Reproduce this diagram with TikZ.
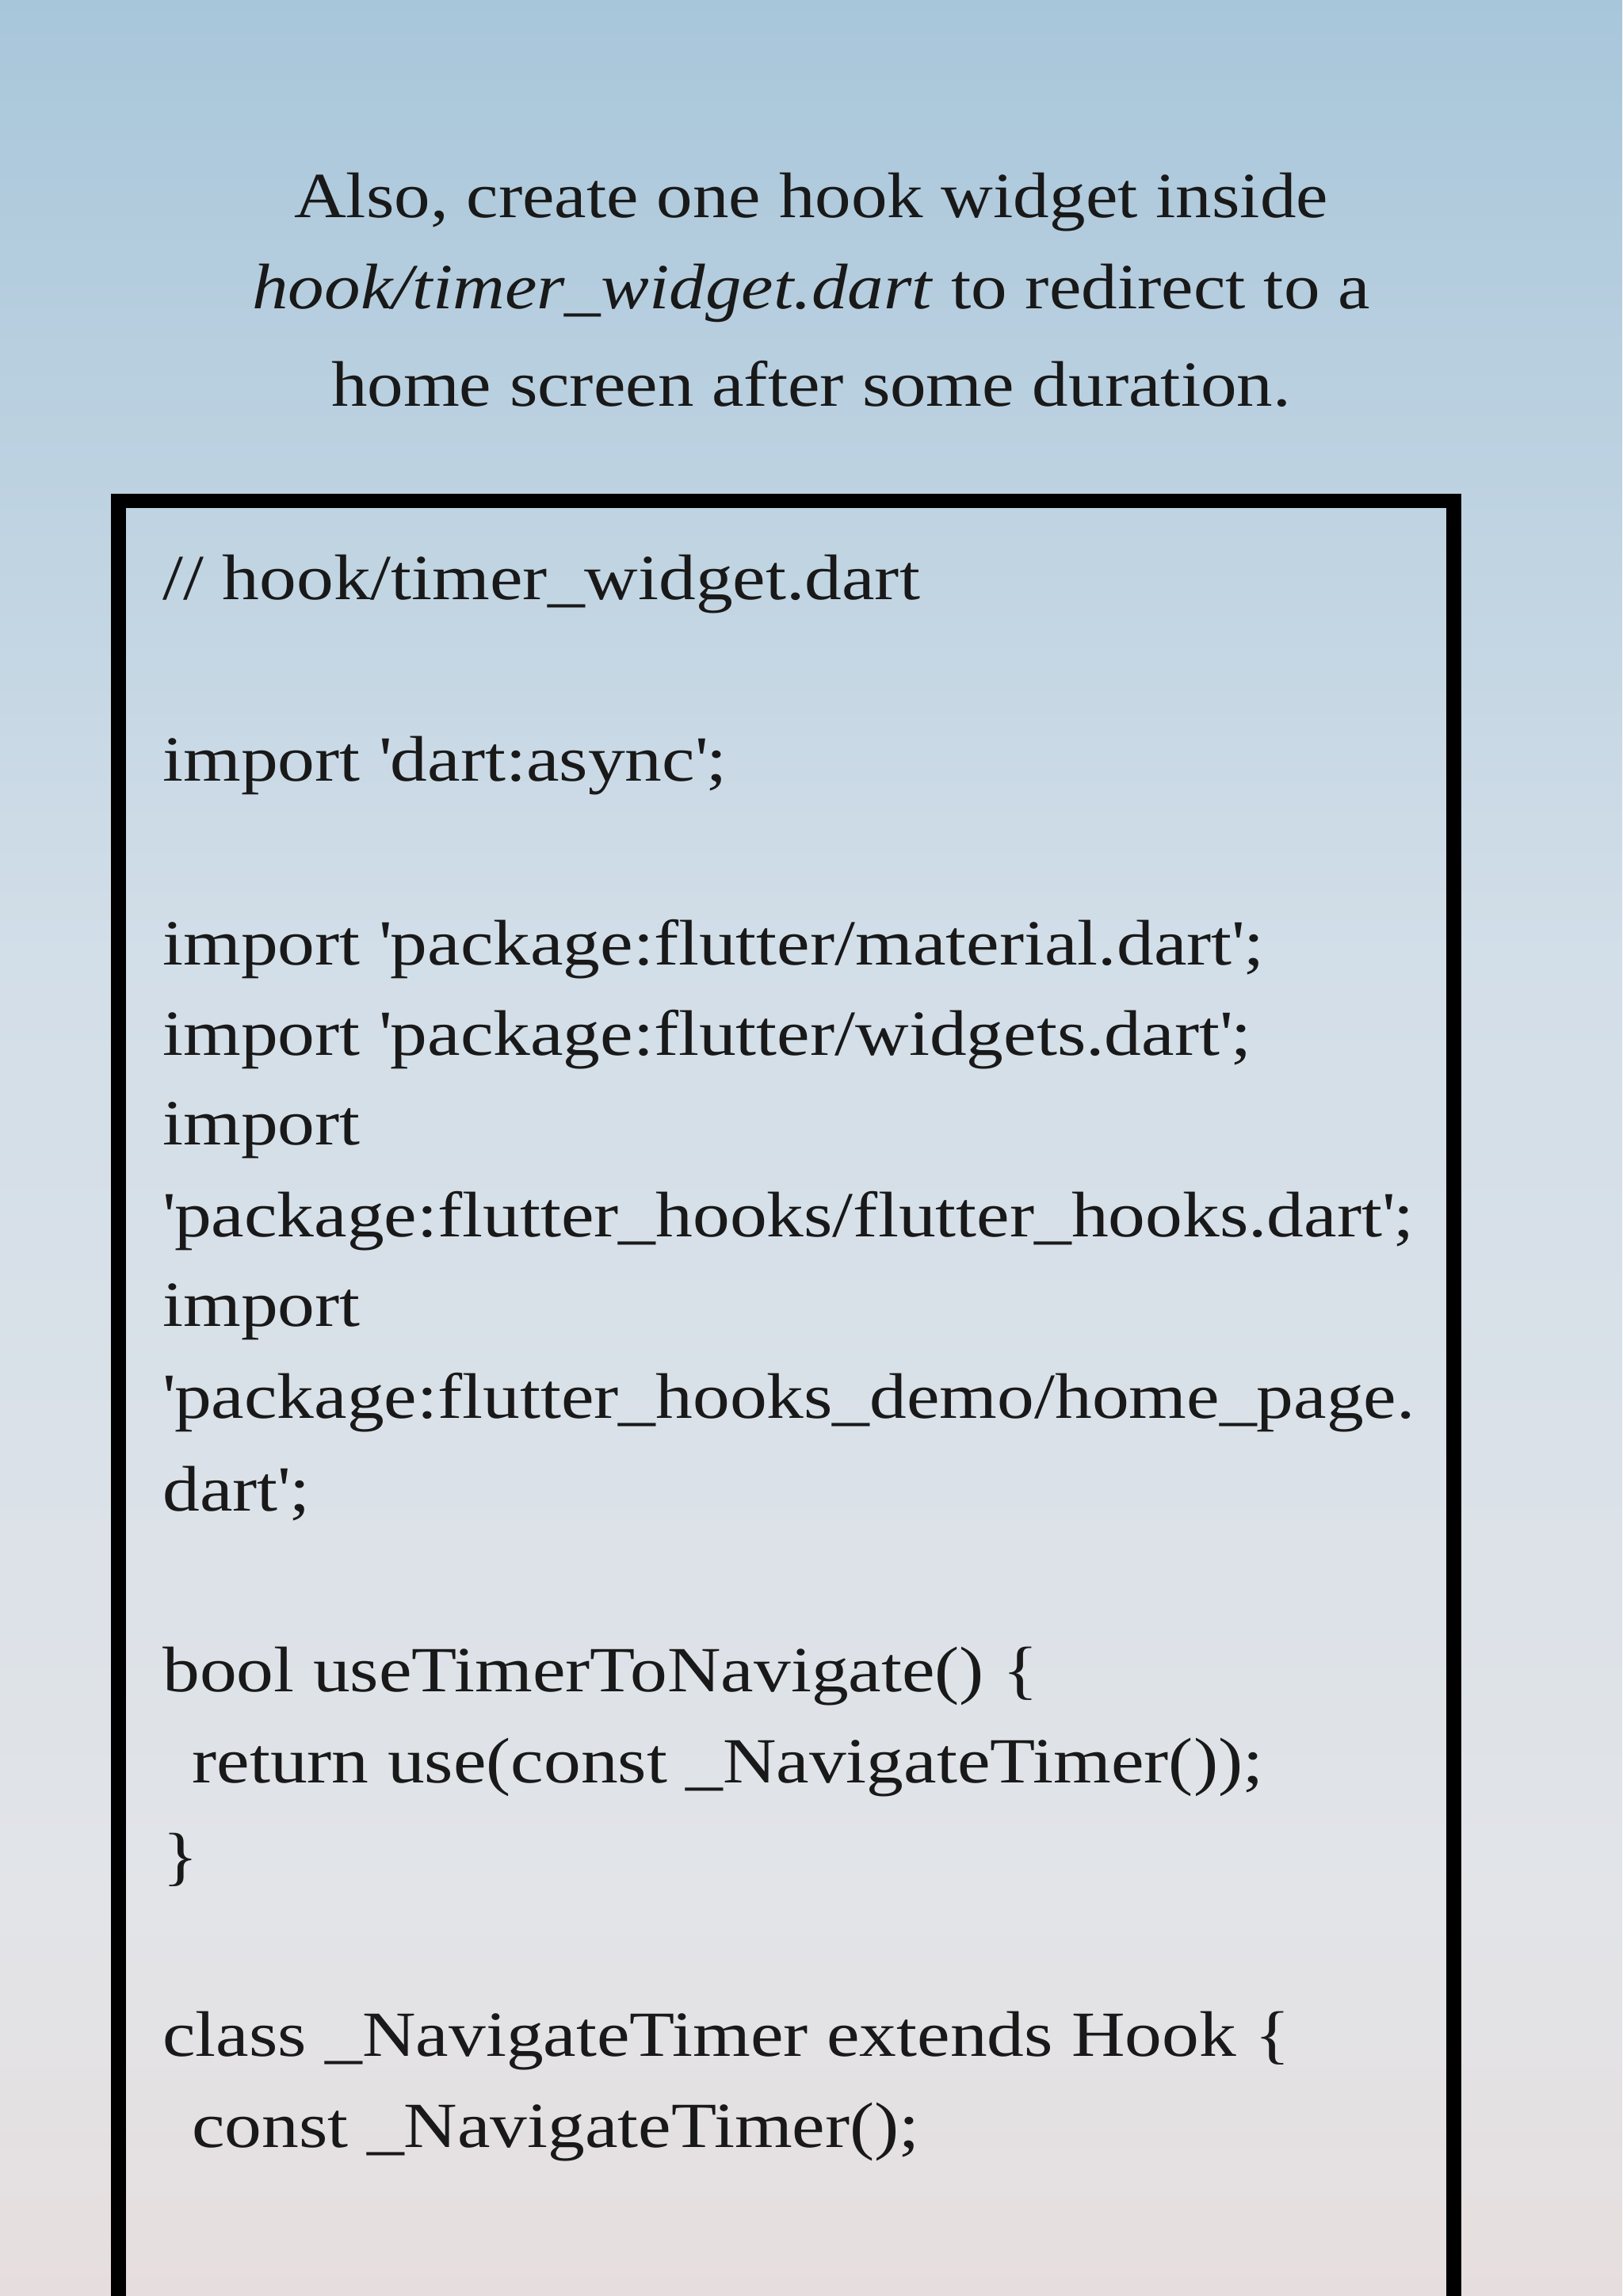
\documentclass[tikz,border=0pt]{standalone}
\usepackage{fontspec}
\setmainfont{Liberation Serif}[FakeStretch=1.15]
\newfontfamily\titlefont{Liberation Serif}[FakeStretch=1.12]
\newcommand\sq{\textquotesingle}
\begin{document}
\begin{tikzpicture}[x=1pt,y=-1pt,
  code/.style={anchor=west,inner sep=0pt,font=\fontsize{44}{44}\selectfont,text=black!90},
  title/.style={anchor=center,inner sep=0pt,font=\titlefont\fontsize{44}{44}\selectfont,text=black!90}]
\useasboundingbox (0,0) rectangle (1108,1568);
\shade[top color={rgb,255:red,168;green,198;blue,218}, bottom color={rgb,255:red,226;green,228;blue,232}, middle color={rgb,255:red,210;green,222;blue,232}] (0,0) rectangle (1108,1300);
\shade[top color={rgb,255:red,226;green,228;blue,232}, bottom color={rgb,255:red,230;green,222;blue,222}] (0,1299) rectangle (1108,1568);
\node[title] (t1) at (554,138) {Also, create one hook widget inside};
\node[title] (t2) at (554,200) {\textit{hook/timer\_widget.dart} to redirect to a};
\node[title] (t3) at (554,262) {home screen after some duration.};
\draw[line width=10pt] (81,1600) -- (81,342) -- (993,342) -- (993,1600);
\node[code] (c1) at (111,399) {// hook/timer\_widget.dart};
\node[code] (c2) at (111,523) {import \sq dart:async\sq;};
\node[code] (c3) at (111,648) {import \sq package:flutter/material.dart\sq;};
\node[code] (c4) at (111,710) {import \sq package:flutter/widgets.dart\sq;};
\node[code] (c5) at (111,772) {import};
\node[code] (c6) at (111,834) {\sq package:flutter\_hooks/flutter\_hooks.dart\sq;};
\node[code] (c7) at (111,896) {import};
\node[code] (c8) at (111,958) {\sq package:flutter\_hooks\_demo/home\_page.};
\node[code] (c9) at (111,1020) {dart\sq;};
\node[code] (c10) at (111,1145) {bool useTimerToNavigate() \{};
\node[code] (c11) at (131,1207) {return use(const \_NavigateTimer());};
\node[code] (c12) at (111,1270) {\}};
\node[code] (c13) at (111,1394) {class \_NavigateTimer extends Hook \{};
\node[code] (c14) at (131,1456) {const \_NavigateTimer();};
\end{tikzpicture}
\end{document}
